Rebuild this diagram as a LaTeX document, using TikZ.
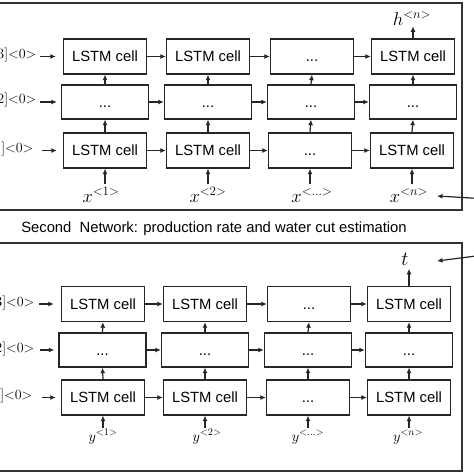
\RequirePackage{fix-cm}
\documentclass[tikz,border=0pt]{standalone}
\usepackage{fontspec}
\newfontfamily\lsans{Liberation Sans}
\usetikzlibrary{arrows.meta}
\definecolor{lc}{HTML}{262626}
\definecolor{fc}{HTML}{333333}
\begin{document}
\begin{tikzpicture}[x=1pt,y=-1pt,
  cell/.style={draw=lc, line width=1.35pt, minimum width=83pt, minimum height=35pt,
    inner sep=0pt, font=\lsans\fontsize{14.8}{16}\selectfont, text height=10.6pt, text depth=0pt},
  wide/.style={minimum width=87pt, minimum height=34pt},
  arr/.style={draw=lc, line width=1.2pt, -{Latex[length=5.5pt,width=5pt]}},
  frame/.style={draw=fc, line width=1.5pt},
  lab/.style={inner sep=0pt, font=\fontsize{20}{22}\selectfont, anchor=base east},
  xlab/.style={inner sep=0pt, font=\fontsize{18.5}{20}\selectfont, anchor=base},
  ylab/.style={inner sep=0pt, font=\fontsize{14.5}{16}\selectfont, anchor=base},
  captxt/.style={inner sep=0pt, font=\lsans\fontsize{14.8}{17}\selectfont, anchor=base}]
\useasboundingbox (0,0) rectangle (474,474);
\fill[white] (0,0) rectangle (474,474);

% frames
\draw[frame] (-10,3) rectangle (462,210);
\draw[frame] (-10,243) rectangle (462,471);

% ---------- first network ----------
\node[cell] (a3) at (105,56.5) {LSTM cell};
\node[cell] (b3) at (208,56.5) {LSTM cell};
\node[cell] (c3) at (312,56.5) {...};
\node[cell] (d3) at (413,56.5) {LSTM cell};
\node[cell,wide] (a2) at (105,102) {...};
\node[cell,wide] (b2) at (208,102) {...};
\node[cell,wide] (c2) at (311,102) {...};
\node[cell,wide] (d2) at (413,102) {...};
\node[cell] (a1) at (105,150.5) {LSTM cell};
\node[cell] (b1) at (208,150.5) {LSTM cell};
\node[cell] (c1) at (310,150.5) {...};
\node[cell] (d1) at (412,150.5) {LSTM cell};

\foreach \r in {1,2,3}{
  \draw[arr] (a\r.east) -- (b\r.west);
  \draw[arr] (b\r.east) -- (c\r.west);
  \draw[arr] (c\r.east) -- (d\r.west);
}
\foreach \c in {a,b,c,d}{
  \draw[arr] (\c1.north) -- (\c2.south);
  \draw[arr] (\c2.north) -- (\c3.south);
  \draw[arr] ([yshift=-15pt]\c1.south) -- (\c1.south);
}

\node[lab] (l3) at (37,65.5) {$a^{[3]<0>}$};
\node[lab] (l2) at (37,111) {$a^{[2]<0>}$};
\node[lab] (l1) at (34,159.5) {$a^{[1]<0>}$};
\draw[arr, shorten <=3pt, shorten >=7pt] (l3.east |- a3.west) -- (a3.west);
\draw[arr, shorten <=3pt, shorten >=4pt] (l2.east |- a2.west) -- (a2.west);
\draw[arr, shorten <=8pt, shorten >=6pt] (l1.east |- a1.west) -- (a1.west);

\node[xlab] (x1) at (101,202) {$x^{<1>}$};
\node[xlab] (x2) at (208,202) {$x^{<2>}$};
\node[xlab] (x3) at (312,202) {$x^{<...>}$};
\node[xlab] (x4) at (409,202) {$x^{<n>}$};

\draw[arr] (d3.north) -- ([yshift=12pt]d3.north) coordinate (hn);
\node[xlab] (h) at (412,25) {$h^{<n>}$};

% caption
\node[captxt] (caption) at (214,232) {Second\hspace{0.55em}Network: production rate and water cut estimation};

% ---------- second network ----------
\node[cell] (p3) at (103,304) {LSTM cell};
\node[cell] (q3) at (205,304) {LSTM cell};
\node[cell] (s3) at (309,304) {...};
\node[cell] (u3) at (409,304) {LSTM cell};
\node[cell,wide] (p2) at (102.5,350) {...};
\node[cell,wide] (q2) at (205,350) {...};
\node[cell,wide] (s2) at (308,350) {...};
\node[cell,wide] (u2) at (409,350) {...};
\node[cell] (p1) at (103,397.5) {LSTM cell};
\node[cell] (q1) at (205,397.5) {LSTM cell};
\node[cell] (s1) at (308,397.5) {...};
\node[cell] (u1) at (409,397.5) {LSTM cell};

\foreach \r in {1,2,3}{
  \draw[arr] (p\r.east) -- (q\r.west);
  \draw[arr] (q\r.east) -- (s\r.west);
  \draw[arr] (s\r.east) -- (u\r.west);
}
\foreach \c in {p,q,s,u}{
  \draw[arr] (\c1.north) -- (\c2.south);
  \draw[arr] (\c2.north) -- (\c3.south);
  \draw[arr] ([yshift=-12pt]\c1.south) -- (\c1.south);
}

\node[lab] (m3) at (35,313.5) {$a^{[3]<0>}$};
\node[lab] (m2) at (35,359.5) {$a^{[2]<0>}$};
\node[lab] (m1) at (33,407) {$a^{[1]<0>}$};
\draw[arr, shorten <=4pt, shorten >=7pt] (m3.east |- p3.west) -- (p3.west);
\draw[arr, shorten <=5pt, shorten >=4pt] (m2.east |- p2.west) -- (p2.west);
\draw[arr, shorten <=9pt, shorten >=5pt] (m1.east |- p1.west) -- (p1.west);

\node[ylab] (y1) at (103,441) {$y^{<1>}$};
\node[ylab] (y2) at (207,441) {$y^{<2>}$};
\node[ylab] (y3) at (308,441) {$y^{<...>}$};
\node[ylab] (y4) at (408,441) {$y^{<n>}$};

\draw[arr] (u3.north) -- ([yshift=17pt]u3.north) coordinate (tn);
\node[inner sep=0pt, font=\fontsize{20}{22}\selectfont, anchor=base] (t) at (405,265.5) {$t$};

% pointers from the right edge
\coordinate (r1s) at (480,198.5);
\coordinate (r1e) at (437,196);
\draw[arr] (r1s) -- (r1e);
\coordinate (r2s) at (480,255.5);
\coordinate (r2e) at (437,261);
\draw[arr] (r2s) -- (r2e);
\end{tikzpicture}
\end{document}
